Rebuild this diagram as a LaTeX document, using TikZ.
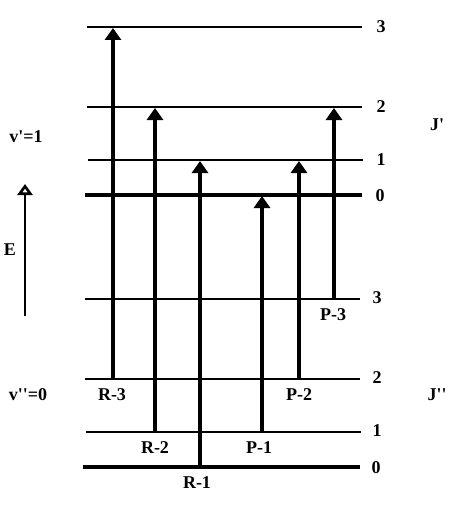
\documentclass[tikz,border=0pt]{standalone}
\usepackage{fontspec}
\setmainfont{Liberation Serif}
\usetikzlibrary{arrows.meta}
\newcommand{\sq}{\textquotesingle}
\begin{document}
\begin{tikzpicture}[x=1pt,y=-1pt,
  level/.style={line width=2.6pt},
  groundlevel/.style={line width=4.6pt},
  trans/.style={line width=3.4pt,-{Triangle[width=16pt,length=12pt]}},
  lbl/.style={font=\fontsize{18}{18}\selectfont\bfseries,inner sep=0pt}]
\useasboundingbox (0,0) rectangle (453,508);
% upper levels
\coordinate (u3l) at (87,27);  \coordinate (u3r) at (362,27);
\coordinate (u2l) at (87,107); \coordinate (u2r) at (362,107);
\coordinate (u1l) at (88,160); \coordinate (u1r) at (363,160);
\coordinate (u0l) at (85,195); \coordinate (u0r) at (362,195);
\draw[level] (u3l) -- (u3r);
\draw[level] (u2l) -- (u2r);
\draw[level] (u1l) -- (u1r);
\draw[groundlevel] (u0l) -- (u0r);
% lower levels
\coordinate (l3l) at (85,299);  \coordinate (l3r) at (360,299);
\coordinate (l2l) at (85,379);  \coordinate (l2r) at (360,379);
\coordinate (l1l) at (86,432);  \coordinate (l1r) at (361,432);
\coordinate (l0l) at (83,467);  \coordinate (l0r) at (360,467);
\draw[level] (l3l) -- (l3r);
\draw[level] (l2l) -- (l2r);
\draw[level] (l1l) -- (l1r);
\draw[groundlevel] (l0l) -- (l0r);
% level numbers
\node[lbl] (n3u) at (381,27) {3};
\node[lbl] (n2u) at (381,107) {2};
\node[lbl] (n1u) at (381,160) {1};
\node[lbl] (n0u) at (380,196) {0};
\node[lbl] (n3l) at (377,298) {3};
\node[lbl] (n2l) at (377,378) {2};
\node[lbl] (n1l) at (377,431) {1};
\node[lbl] (n0l) at (376,468) {0};
\node[lbl] (jp) at (437,125) {J\sq};
\node[lbl] (jpp) at (437,395) {J\sq\sq};
\node[lbl] (vp) at (26,137) {v\sq=1};
\node[lbl] (vpp) at (28,395) {v\sq\sq=0};
\node[lbl] (E) at (10,250) {E};
% energy arrow
\coordinate (ea) at (25,316); \coordinate (eb) at (25,184);
\draw[line width=2.4pt,-{Triangle[open,width=15pt,length=11pt,line width=2.6pt]}] (ea) -- (eb);
% transitions
\coordinate (r3a) at (113,379); \coordinate (r3b) at (113,28);
\coordinate (r2a) at (155,432); \coordinate (r2b) at (155,108);
\coordinate (r1a) at (200,467); \coordinate (r1b) at (200,161);
\coordinate (p1a) at (262,432); \coordinate (p1b) at (262,196);
\coordinate (p2a) at (299,379); \coordinate (p2b) at (299,161);
\coordinate (p3a) at (334,299); \coordinate (p3b) at (334,108);
\draw[trans] (r3a) -- (r3b);
\draw[trans] (r2a) -- (r2b);
\draw[trans] (r1a) -- (r1b);
\draw[trans] (p1a) -- (p1b);
\draw[trans] (p2a) -- (p2b);
\draw[trans] (p3a) -- (p3b);
% branch labels
\node[lbl] (R3) at (112,395) {R-3};
\node[lbl] (R2) at (155,448) {R-2};
\node[lbl] (R1) at (197,483) {R-1};
\node[lbl] (P1) at (259,448) {P-1};
\node[lbl] (P2) at (299,395) {P-2};
\node[lbl] (P3) at (333,315) {P-3};
\end{tikzpicture}
\end{document}
